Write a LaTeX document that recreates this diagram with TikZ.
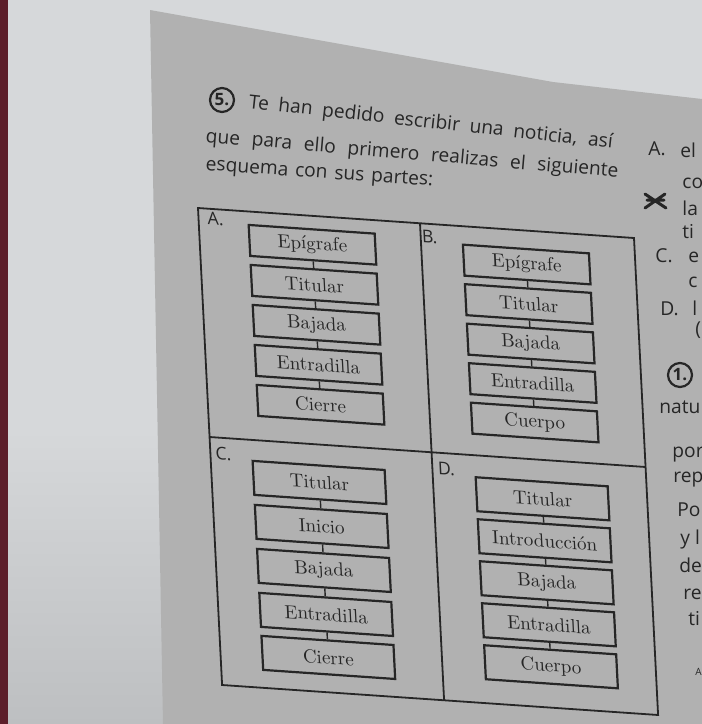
\documentclass[tikz,border=0pt]{standalone}
\usepackage{fontspec}
\usepackage{xcolor}
\usepackage{tikz}
\newfontfamily\libro{Open Sans}

\definecolor{fondo}{HTML}{D6D8DA}
\definecolor{sombra}{HTML}{BDBFC1}
\definecolor{borde}{HTML}{5C1E2A}
\definecolor{pagina}{HTML}{B1B1B1}
\definecolor{tinta}{HTML}{262626}

\tikzset{
  parte/.style={draw=tinta, line width=1.1pt, text=tinta, inner sep=0pt,
    minimum width=63pt, minimum height=15.5pt, font=\fontsize{9.5}{11}\selectfont},
  ancha/.style={minimum width=66pt, minimum height=17pt},
  une/.style={draw=tinta, line width=0.7pt},
  marco/.style={draw=tinta, line width=0.9pt},
  letra/.style={text=tinta, inner sep=0pt, font=\libro\fontsize{8.8}{10}\selectfont},
  renglon/.style={text=tinta, inner sep=0pt, anchor=base west,
    font=\libro\fontsize{9.6}{11}\selectfont},
  numero/.style={circle, draw=tinta, line width=1.1pt, text=tinta, inner sep=0pt,
    minimum size=12pt, font=\libro\bfseries\fontsize{8.5}{9}\selectfont}
}

\begin{document}
\begin{tikzpicture}[x=0.5pt, y=-0.5pt]
  \useasboundingbox (0,0) rectangle (702,724);
  \clip (0,0) rectangle (702,724);
  % wall and page
  \fill[fondo] (0,0) rectangle (702,724);
  \shade[top color=fondo, bottom color=sombra] (8,430) rectangle (165,724);
  \fill[borde] (0,0) rectangle (8,724);
  \fill[pagina] (150,10) -- (553,82) -- (702,99) -- (702,724) -- (163,724) -- cycle;

  % question
  \node[numero] (n5) at (222,100) {5.};
  \node[renglon, rotate=-6.3] (q1) at (248,108) {\makebox[183pt][s]{Te han pedido escribir una noticia, así}};
  \node[renglon, rotate=-4.9] (q2) at (205,142) {\makebox[207pt][s]{que para ello primero realizas el siguiente}};
  \node[renglon, rotate=-4] (q3) at (205,170) {\makebox[114pt][s]{esquema con sus partes:}};

  % the four schemes
  \begin{scope}[shift={(198,208)}, cm={1,-0.0688,-0.0505,1,(0,0)}, transform shape]
    \draw[marco] (0,0) rectangle (436,477);
    \draw[marco] (222,0) -- (222,477);
    \draw[marco] (0,229) -- (436,229);

    \node[letra] (la) at (17,10) {A.};
    \node[parte] (a1) at (113,29) {Epígrafe};
    \node[parte] (a2) at (113,69) {Titular};
    \node[parte] (a3) at (113,109) {Bajada};
    \node[parte] (a4) at (113,149) {Entradilla};
    \node[parte] (a5) at (113,189) {Cierre};
    \draw[une] (a1) -- (a2);
    \draw[une] (a2) -- (a3);
    \draw[une] (a3) -- (a4);
    \draw[une] (a4) -- (a5);

    \node[letra] (lb) at (231,13) {B.};
    \node[parte] (b1) at (327,34) {Epígrafe};
    \node[parte] (b2) at (327,73.5) {Titular};
    \node[parte] (b3) at (327,113) {Bajada};
    \node[parte] (b4) at (327,152.5) {Entradilla};
    \node[parte] (b5) at (327,192) {Cuerpo};
    \draw[une] (b1) -- (b2);
    \draw[une] (b2) -- (b3);
    \draw[une] (b3) -- (b4);
    \draw[une] (b4) -- (b5);

    \node[letra] (lc) at (13,245) {C.};
    \node[parte, ancha] (c1) at (108,267) {Titular};
    \node[parte, ancha] (c2) at (108,311) {Inicio};
    \node[parte, ancha] (c3) at (108,355) {Bajada};
    \node[parte, ancha] (c4) at (108,399) {Entradilla};
    \node[parte, ancha] (c5) at (108,442) {Cierre};
    \draw[une] (c1) -- (c2);
    \draw[une] (c2) -- (c3);
    \draw[une] (c3) -- (c4);
    \draw[une] (c4) -- (c5);

    \node[letra] (ld) at (236,245) {D.};
    \node[parte, ancha] (d1) at (331,268) {Titular};
    \node[parte, ancha] (d2) at (331,310) {Introducción};
    \node[parte, ancha] (d3) at (331,352) {Bajada};
    \node[parte, ancha] (d4) at (331,394) {Entradilla};
    \node[parte, ancha] (d5) at (331,436) {Cuerpo};
    \draw[une] (d1) -- (d2);
    \draw[une] (d2) -- (d3);
    \draw[une] (d3) -- (d4);
    \draw[une] (d4) -- (d5);
  \end{scope}

  % next column, cut by the edge
  \node[renglon] (r1) at (648,155) {A.};
  \node[renglon] (r2) at (680,157) {el};
  \node[renglon] (r3) at (682,188) {co};
  \draw[tinta, line width=1.5pt, line cap=round] (645,194) -- (666,208) (665,194) -- (645,208) (647,200) -- (664,200);
  \node[renglon] (r4) at (682,215) {la};
  \node[renglon] (r5) at (682,238) {ti};
  \node[renglon] (r6) at (655,262) {C.};
  \node[renglon] (r7) at (688,262) {e};
  \node[renglon] (r8) at (688,287) {c};
  \node[renglon] (r9) at (660,315) {D.};
  \node[renglon] (r10) at (692,315) {l};
  \node[renglon] (r11) at (695,335) {(};
  \node[numero] (n1) at (680,375) {1.};
  \node[renglon] (r12) at (659,413) {natu};
  \node[renglon] (r13) at (672,457) {por};
  \node[renglon] (r14) at (673,482) {rep};
  \node[renglon] (r15) at (677,516) {Po};
  \node[renglon] (r16) at (680,544) {y l};
  \node[renglon] (r17) at (679,572) {de};
  \node[renglon] (r18) at (683,599) {re};
  \node[renglon] (r19) at (688,625) {ti};
  \node[renglon, font=\libro\fontsize{5}{6}\selectfont] (r20) at (695,675) {A};
\end{tikzpicture}
\end{document}
